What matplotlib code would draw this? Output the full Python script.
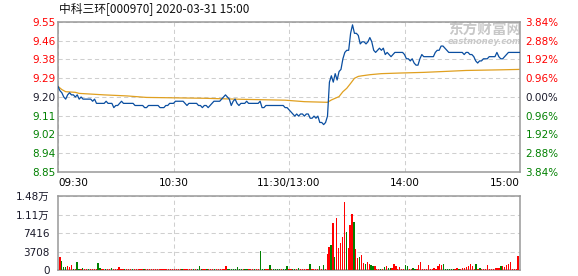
import numpy as np
import matplotlib.pyplot as plt

plt.rcParams['font.family'] = ['DejaVu Sans', 'Noto Sans CJK SC']

title = "中科三环[000970] 2020-03-31 15:00"
prev_close = 9.20
pct_step = 0.96

# one price per minute, 09:30 .. 11:30 then 13:00 .. 15:00
price = [
    9.25, 9.23, 9.22, 9.20, 9.19, 9.21, 9.22, 9.21, 9.21, 9.20,
    9.21, 9.19, 9.20, 9.19, 9.19, 9.19, 9.19, 9.19, 9.18, 9.19,
    9.17, 9.17, 9.17, 9.17, 9.17, 9.18, 9.17, 9.17, 9.17, 9.15,
    9.16, 9.16, 9.17, 9.18, 9.17, 9.17, 9.17, 9.17, 9.17, 9.17,
    9.16, 9.16, 9.16, 9.16, 9.16, 9.15, 9.15, 9.16, 9.16, 9.16,
    9.16, 9.16, 9.16, 9.15, 9.15, 9.15, 9.16, 9.16, 9.17, 9.17,
    9.17, 9.18, 9.18, 9.18, 9.18, 9.18, 9.17, 9.16, 9.17, 9.17,
    9.17, 9.17, 9.17, 9.16, 9.16, 9.15, 9.16, 9.16, 9.15, 9.16,
    9.17, 9.18, 9.18, 9.18, 9.18, 9.19, 9.20, 9.21, 9.20, 9.19,
    9.16, 9.18, 9.19, 9.17, 9.16, 9.17, 9.17, 9.17, 9.18, 9.17,
    9.17, 9.17, 9.17, 9.17, 9.17, 9.18, 9.15, 9.15, 9.16, 9.16,
    9.16, 9.16, 9.16, 9.16, 9.16, 9.16, 9.16, 9.16, 9.15, 9.15,
    9.14, 9.13, 9.12, 9.11, 9.12, 9.11, 9.12, 9.12, 9.11, 9.12,
    9.12, 9.10, 9.10, 9.11, 9.10, 9.11, 9.08, 9.08, 9.07, 9.08,
    9.11, 9.27, 9.30, 9.27, 9.31, 9.28, 9.32, 9.33, 9.38, 9.41,
    9.42, 9.42, 9.50, 9.54, 9.50, 9.50, 9.49, 9.45, 9.46, 9.46,
    9.45, 9.46, 9.48, 9.46, 9.42, 9.41, 9.42, 9.43, 9.42, 9.43,
    9.40, 9.41, 9.40, 9.39, 9.40, 9.41, 9.41, 9.41, 9.41, 9.41,
    9.40, 9.38, 9.38, 9.37, 9.38, 9.36, 9.35, 9.35, 9.38, 9.40,
    9.39, 9.39, 9.39, 9.39, 9.39, 9.39, 9.41, 9.42, 9.42, 9.44,
    9.44, 9.43, 9.42, 9.41, 9.41, 9.41, 9.41, 9.41, 9.41, 9.41,
    9.41, 9.40, 9.41, 9.41, 9.40, 9.40, 9.39, 9.37, 9.36, 9.37,
    9.37, 9.38, 9.38, 9.38, 9.39, 9.39, 9.39, 9.39, 9.41, 9.39,
    9.38, 9.38, 9.39, 9.40, 9.41, 9.41, 9.41, 9.41, 9.41, 9.41,
    9.41,
]

avg_minutes = [0, 2, 4, 9, 11, 24, 36, 46, 76, 96, 118, 128, 140, 142, 146,
               148, 150, 152, 154, 156, 158, 162, 168, 178, 190, 200, 212, 230, 240]
avg_values = [9.25, 9.235, 9.225, 9.222, 9.217, 9.21, 9.205, 9.198, 9.194, 9.189,
              9.185, 9.178, 9.175, 9.186, 9.202, 9.225, 9.241, 9.264, 9.288, 9.297,
              9.30, 9.305, 9.31, 9.313, 9.316, 9.32, 9.325, 9.328, 9.33]

volume = [
    2700, 1800, 530, 670, 870, 670, 1070, 200, 300, 1600,
    300, 200, 400, 200, 200, 200, 200, 200, 300, 200,
    1400, 400, 200, 200, 200, 200, 200, 400, 200, 200,
    200, 600, 200, 200, 200, 200, 200, 200, 200, 200,
    200, 200, 200, 200, 200, 200, 200, 200, 200, 200,
    200, 200, 200, 200, 200, 200, 200, 200, 200, 200,
    200, 200, 200, 200, 200, 200, 200, 200, 200, 200,
    200, 200, 200, 800, 200, 200, 200, 200, 300, 200,
    200, 200, 200, 200, 200, 200, 200, 800, 200, 200,
    200, 200, 200, 670, 200, 200, 200, 200, 200, 200,
    300, 200, 200, 200, 200, 3800, 200, 200, 200, 200,
    1000, 200, 200, 200, 200, 200, 200, 200, 200, 800,
    200, 300, 200, 200, 200, 400, 200, 200, 200, 200,
    200, 1200, 200, 200, 200, 200, 800, 200, 1000, 200,
    3200, 4700, 5000, 9500, 2700, 10400, 4400, 5500, 6700, 13700,
    7600, 4500, 9100, 11300, 9600, 4200, 2400, 2700, 3000, 1500,
    1200, 1600, 1300, 1000, 800, 800, 300, 200, 300, 200,
    600, 900, 500, 500, 500, 1200, 800, 300, 600, 200,
    200, 930, 800, 300, 200, 500, 300, 200, 930, 1600,
    300, 300, 200, 930, 200, 300, 500, 200, 800, 1300,
    930, 1300, 200, 200, 200, 200, 200, 200, 500, 200,
    200, 500, 500, 670, 800, 1200, 800, 200, 1200, 200,
    500, 200, 200, 300, 930, 200, 300, 200, 500, 500,
    500, 800, 800, 700, 1000, 1300, 1700, 200, 200, 200,
    2800,
]
vol_dir = ("rgggrrrgrg" "grgrrgrrrr" "ggrrgrrgrr" "rrrrgrrrgr" "rrrrgrrrrr"
           "rrrrrrrrrr" "rrrrgrrrrr" "grgggrrgrr" "rgrrrrrrgg" "ggggggrggr"
           "rrgrrgggrr" "grggggrggg" "rrggrgrrrr" "rgrrrrgrgr" "rrgrgrrrrr"
           "grrrgrrgrr" "grrggrrrgr" "grggrrrrrr" "rggrrggrrr" "rrrrrrrrrr"
           "rggggggrrg" "rrrrrrrrgr" "grrrrrrrrr" "rgrrrrrrrr" "r")

price_labels = ['8.85', '8.94', '9.02', '9.11', '9.20', '9.29', '9.38', '9.46', '9.55']
pct_labels = ['3.84%', '2.88%', '1.92%', '0.96%', '0.00%', '0.96%', '1.92%', '2.88%', '3.84%']
time_labels = ['09:30', '10:30', '11:30/13:00', '14:00', '15:00']
vol_max = 14832
vol_labels = ['0', '3708', '7416', '1.11万', '1.48万']

RED = '#ff0000'
GREEN = '#008000'
DARK = '#1a1a2a'
label_colors = [GREEN] * 4 + [DARK] + [RED] * 4

W, H = 578, 276
fig = plt.figure(figsize=(W / 100, H / 100), dpi=100)
ax = fig.add_axes([58 / W, 1 - 172 / H, 462 / W, 150 / H])
axv = fig.add_axes([58 / W, 1 - 270 / H, 462 / W, 74 / H])

minutes = np.arange(len(price))
levels = prev_close * (1 + pct_step / 100 * np.arange(-4, 5))

ax.plot(minutes, price, color='#0a4ea0', lw=0.9, zorder=3)
ax.plot(avg_minutes, avg_values, color='#e0a020', lw=0.9, zorder=2.5)
ax.set_xlim(0, 240)
ax.set_ylim(levels[0], levels[-1])
ax.set_yticks(levels)
ax.set_yticklabels(price_labels)
for t, c in zip(ax.get_yticklabels(), label_colors):
    t.set_color(c)
ax.set_xticks([0, 60, 120, 180, 240])
ax.set_xticklabels(time_labels)
xl = ax.get_xticklabels()
xl[0].set_ha('left')
xl[-1].set_ha('right')
ax.tick_params(length=0, labelsize=7.5, pad=2)
ax.tick_params(axis='x', pad=4)

ax2 = ax.twinx()
ax2.set_ylim(levels[0], levels[-1])
ax2.set_yticks(levels)
ax2.set_yticklabels(pct_labels)
for t, c in zip(ax2.get_yticklabels(), label_colors):
    t.set_color(c)
ax2.tick_params(length=0, labelsize=7.5, pad=4)
for s in ax2.spines.values():
    s.set_visible(False)

# volume bars
bar_colors = [RED if d == 'r' else GREEN for d in vol_dir]
axv.bar(minutes, volume, width=0.62, color=bar_colors, zorder=3, antialiased=False)
axv.set_xlim(-1, 241)
axv.set_ylim(0, vol_max)
axv.set_yticks(np.linspace(0, vol_max, 5))
axv.set_yticklabels(vol_labels)
axv.set_xticks([-1 + 242 * k / 4 for k in range(1, 4)])
axv.set_xticklabels([])
axv.tick_params(length=0, labelsize=7.5, pad=6, labelcolor=DARK)

for a in (ax, axv):
    a.grid(True, color='#cfcfcf', lw=0.75, linestyle=(0, (4, 3)), zorder=0)
    for s in a.spines.values():
        s.set_color('#999999')
        s.set_linewidth(1.1)

# watermark
ax.text(448 / W, 1 - 30 / H, '东方财富网', transform=fig.transFigure, fontsize=10.5,
        fontweight='bold', color='#c8c8c8', family=['Noto Sans CJK SC'],
        va='center', ha='left', zorder=1)
ax.text(448 / W, 1 - 42 / H, 'eastmoney.com', transform=fig.transFigure, fontsize=6,
        fontweight='bold', style='italic', color='#c8c8c8', va='center', ha='left', zorder=1)

fig.text(59 / W, 1 - 9 / H, title, fontsize=8.5, color='#111111',
         family=['Noto Sans CJK SC', 'DejaVu Sans'], va='center', ha='left')

fig.savefig('out.png', dpi=100)
